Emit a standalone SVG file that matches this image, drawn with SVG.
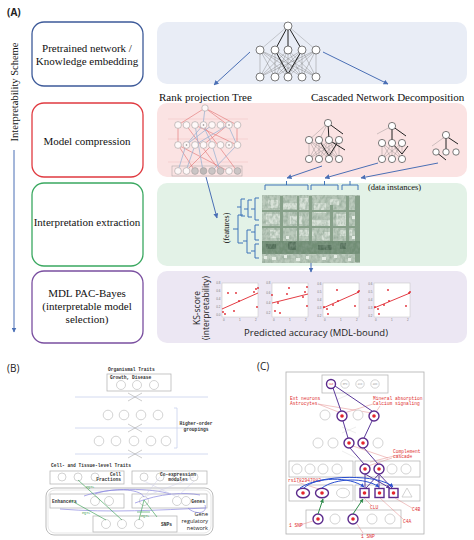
<svg xmlns="http://www.w3.org/2000/svg" width="474" height="540" viewBox="0 0 474 540">
<style>
.serif{font-family:"Liberation Serif","Times New Roman",serif;fill:#111}
.sans{font-family:"Open Sans","Liberation Sans",Arial,sans-serif;fill:#222}
.mono{font-family:"Liberation Mono","Courier New",monospace;font-weight:bold;fill:#333;font-size:4.6px}
.monored{font-family:"Liberation Mono","Courier New",monospace;fill:#e03030;font-size:4.6px}
.box{fill:#fff;stroke-width:1.3}
.arr{stroke:#4a6fb5;stroke-width:1;fill:none}
.net circle{fill:#fff;stroke:#444;stroke-width:0.7}
.nl{stroke:#777;stroke-width:0.35}
.hl{stroke:#222;stroke-width:1;fill:none}
.br{stroke:#3f74b8;stroke-width:1;fill:none}
.gc{fill:#fff;stroke:#c8c8c8;stroke-width:0.8}
.gb{fill:none;stroke:#b8b8b8;stroke-width:0.8}
.pc{fill:#fff;stroke:#5b2a8c;stroke-width:1.4}
.rd{fill:#e3262b}
.pl{stroke:#5b3a9a;stroke-width:1;fill:none}
.tick{font-family:"Liberation Sans",Arial,sans-serif;font-size:3px;fill:#777}
.ax{fill:#fff;stroke:#c0c0c0;stroke-width:0.5}
.dot{fill:#e0262f}
.rl{stroke:#e0262f;stroke-width:0.9}
</style>
<defs>
<marker id="ah" viewBox="0 0 10 10" refX="9" refY="5" markerWidth="5" markerHeight="5" orient="auto-start-reverse"><path d="M0,0 L10,5 L0,10 z" fill="#4a6fb5"/></marker>
<marker id="ahb" viewBox="0 0 10 10" refX="9" refY="5" markerWidth="4" markerHeight="4" orient="auto"><path d="M0,0 L10,5 L0,10 z" fill="#2a4fd0"/></marker>
<marker id="ahg" viewBox="0 0 10 10" refX="9" refY="5" markerWidth="4" markerHeight="4" orient="auto"><path d="M0,0 L10,5 L0,10 z" fill="#2d8a4a"/></marker>
<marker id="ahp" viewBox="0 0 10 10" refX="9" refY="5" markerWidth="4" markerHeight="4" orient="auto"><path d="M0,0 L10,5 L0,10 z" fill="#5b3a9a"/></marker>
<filter id="noise" x="0" y="0" width="100%" height="100%">
<feTurbulence type="fractalNoise" baseFrequency="0.35 0.25" numOctaves="2" seed="7" result="t"/>
<feColorMatrix in="t" type="matrix" values="0 0 0 0 0.25  0 0 0 0 0.35  0 0 0 0 0.27  0 0 0 1.6 -0.55"/>
</filter>
</defs>
<rect width="474" height="540" fill="#fff"/>

<!-- Panel A -->
<text x="7" y="16" class="sans" font-size="10" font-weight="bold">(A)</text>
<text class="serif" font-size="10.5" transform="translate(18,92) rotate(-90)" text-anchor="middle">Interpretability Scheme</text>
<line x1="14" y1="150" x2="14" y2="332" class="arr" marker-end="url(#ah)"/>

<!-- right panels -->
<rect x="157" y="22" width="310" height="62" rx="10" fill="#e9edf6"/>
<rect x="157" y="103" width="310" height="74" rx="10" fill="#fbe3e3"/>
<rect x="157" y="183" width="310" height="83" rx="10" fill="#e3f2e7"/>
<rect x="157" y="271" width="310" height="72" rx="10" fill="#ece7f3"/>

<g id="box1"><rect x="32" y="22" width="111" height="64" rx="12" class="box" stroke="#3d5a99"/>
<text x="87" y="52" class="serif" font-size="11" text-anchor="middle">Pretrained network /</text>
<text x="87" y="65" class="serif" font-size="11" text-anchor="middle">Knowledge embedding</text></g>
<g id="box2"><rect x="32" y="103" width="111" height="74" rx="12" class="box" stroke="#e03a40"/>
<text x="87" y="145" class="serif" font-size="11" text-anchor="middle">Model compression</text></g>
<g id="box3"><rect x="32" y="183" width="111" height="83" rx="12" class="box" stroke="#3aa860"/>
<text x="87" y="226" class="serif" font-size="11" text-anchor="middle">Interpretation extraction</text></g>
<g id="box4"><rect x="32" y="271" width="111" height="72" rx="12" class="box" stroke="#7a4fa0"/>
<text x="87" y="297" class="serif" font-size="11" text-anchor="middle">MDL PAC-Bayes</text>
<text x="87" y="310" class="serif" font-size="11" text-anchor="middle">(interpretable model</text>
<text x="87" y="323" class="serif" font-size="11" text-anchor="middle">selection)</text></g>

<!-- pretrained network -->
<g id="pretrained" class="net">
<g class="nl">
<line x1="288" y1="26" x2="260" y2="50"/><line x1="288" y1="26" x2="316" y2="50"/>
<path d="M260,50 L275,77 M260,50 L288,77 M260,50 L302,77 M260,50 L316,77 M275,50 L260,77 M275,50 L288,77 M275,50 L302,77 M275,50 L316,77 M288,50 L260,77 M288,50 L275,77 M288,50 L302,77 M288,50 L316,77 M302,50 L260,77 M302,50 L275,77 M302,50 L288,77 M302,50 L316,77 M316,50 L260,77 M316,50 L275,77 M316,50 L288,77 M316,50 L302,77 M260,50 V77 M275,50 V77 M288,50 V77 M302,50 V77 M316,50 V77" stroke-width="0.4"/>
</g>
<path d="M275,50 L288,26 L302,50 M275,50 L288,74 L302,50 M288,26 L288,50" class="hl"/>
<circle cx="288" cy="26" r="4"/>
<circle cx="260" cy="50" r="4"/><circle cx="275" cy="50" r="4"/><circle cx="288" cy="50" r="4"/><circle cx="302" cy="50" r="4"/><circle cx="316" cy="50" r="4"/>
<circle cx="260" cy="77" r="4"/><circle cx="275" cy="77" r="4"/><circle cx="288" cy="77" r="4"/><circle cx="302" cy="77" r="4"/><circle cx="316" cy="77" r="4"/>
</g>
<text x="159" y="101" class="serif" font-size="11">Rank projection Tree</text>
<text x="311" y="101" class="serif" font-size="11">Cascaded Network Decomposition</text>

<!-- rank projection tree -->
<g id="rankproj" opacity="0.75">
<g stroke="#e8b0b0" stroke-width="0.5"><line x1="168" y1="119" x2="248" y2="119"/><line x1="168" y1="139" x2="248" y2="139"/><line x1="168" y1="162" x2="248" y2="162"/></g>
<rect x="172" y="166" width="70" height="10" fill="none" stroke="#999" stroke-width="0.6"/>
<g stroke="#d84a4a" stroke-width="0.6" fill="none">
<path d="M205,108 L178,125 M205,108 L237,125 M205,108 L228,125 M178,125 L178,145 L195,171 M237,125 L237,145 M203,125 L237,171 M186,125 L220,171 M178,145 L228,171 M212,145 L186,171 M228,125 L203,145 M195,125 L237,145"/>
</g>
<g stroke="#6e9ccc" stroke-width="0.7" fill="none">
<path d="M205,108 L203,125 M203,125 L186,145 L178,171 M228,125 L195,145 L186,171 M212,125 L186,145 M203,125 L212,145 L220,171 M195,125 L203,171 M228,125 L237,145 L212,171"/>
</g>
<g fill="#fff" stroke="#888" stroke-width="0.6">
<circle cx="205" cy="108" r="3.2"/>
<circle cx="178" cy="125" r="3.4"/><circle cx="186.5" cy="125" r="3.4"/><circle cx="195" cy="125" r="3.4"/><circle cx="203.5" cy="125" r="3.4"/><circle cx="212" cy="125" r="3.4"/><circle cx="220.5" cy="125" r="3.4"/><circle cx="229" cy="125" r="3.4"/><circle cx="237.5" cy="125" r="3.4"/>
<circle cx="178" cy="145" r="3.4"/><circle cx="186.5" cy="145" r="3.4"/><circle cx="195" cy="145" r="3.4"/><circle cx="203.5" cy="145" r="3.4"/><circle cx="212" cy="145" r="3.4"/><circle cx="220.5" cy="145" r="3.4"/><circle cx="229" cy="145" r="3.4"/><circle cx="237.5" cy="145" r="3.4"/>
<circle cx="178" cy="171" r="3.4"/><circle cx="186.5" cy="171" r="3.4"/>
<circle cx="195" cy="171" r="3.4" fill="#bbb"/><circle cx="203.5" cy="171" r="3.4" fill="#aaa"/><circle cx="212" cy="171" r="3.4" fill="#bbb"/><circle cx="220.5" cy="171" r="3.4" fill="#bbb"/><circle cx="229" cy="171" r="3.4"/><circle cx="237.5" cy="171" r="3.4" fill="#bbb"/>
</g>
<g fill="#666"><circle cx="203.5" cy="125" r="0.8"/><circle cx="229" cy="125" r="0.8"/><circle cx="186.5" cy="145" r="0.8"/><circle cx="229" cy="145" r="0.8"/></g>
</g>

<!-- cascaded networks -->
<g id="cascade1" class="net">
<path class="nl" d="M309,140 L319,159 M309,140 L329,159 M309,140 L339,159 M319,140 L309,159 M319,140 L329,159 M319,140 L339,159 M329,140 L309,159 M329,140 L319,159 M329,140 L339,159 M339,140 L309,159 M339,140 L319,159 M339,140 L329,159 M309,140 V159 M319,140 V159 M329,140 V159 M339,140 V159 M328,123 L309,140 M328,123 L319,140"/>
<path class="hl" d="M328,123 L329,140 M328,123 L343,134 M319,140 L329,156 L339,140 M329,140 L345,150"/>
<circle cx="328" cy="123" r="3.6"/>
<circle cx="309" cy="140" r="3.6"/><circle cx="319" cy="140" r="3.6"/><circle cx="329" cy="140" r="3.6"/><circle cx="339" cy="140" r="3.6"/>
<circle cx="309" cy="159" r="3.6"/><circle cx="319" cy="159" r="3.6"/><circle cx="329" cy="159" r="3.6"/><circle cx="339" cy="159" r="3.6"/>
</g>
<g id="cascade2" class="net">
<path class="nl" d="M382,143 L392,159 M382,143 L402,159 M392,143 L382,159 M392,143 L402,159 M402,143 L382,159 M402,143 L392,159 M382,143 V159 M392,143 V159 M402,143 V159 M392,126 L377,134" stroke-width="0.8"/>
<path class="hl" d="M392,126 L406,136 M392,126 L392,143 M392,143 L402,154 L408,146"/>
<circle cx="392" cy="126" r="3.6"/>
<circle cx="382" cy="143" r="3.6"/><circle cx="392" cy="143" r="3.6"/><circle cx="402" cy="143" r="3.6"/>
<circle cx="382" cy="159" r="3.6"/><circle cx="392" cy="159" r="3.6"/><circle cx="402" cy="159" r="3.6"/>
</g>
<g id="cascade3" class="net">
<path class="nl" d="M446,136 L432,146"/>
<path class="hl" d="M446,136 L458,144 M446,136 L446,150 M436,152 L446,160"/>
<circle cx="446" cy="135" r="3.6"/>
<circle cx="436" cy="152" r="3.2"/><circle cx="446" cy="152" r="3.2"/><circle cx="456" cy="152" r="3.2"/>
</g>

<!-- heatmap -->
<g id="heatmap">
<rect x="262" y="195" width="98" height="68" fill="#bccbbd"/>
<g fill="#d8e2d8"><rect x="268" y="200" width="10" height="8"/><rect x="283" y="203" width="14" height="6"/><rect x="300" y="198" width="8" height="12"/><rect x="314" y="203" width="12" height="10"/><rect x="330" y="199" width="9" height="6"/><rect x="266" y="214" width="16" height="10"/><rect x="290" y="216" width="12" height="8"/><rect x="310" y="220" width="20" height="6"/><rect x="336" y="214" width="10" height="12"/><rect x="270" y="230" width="10" height="8"/><rect x="296" y="230" width="18" height="6"/><rect x="322" y="232" width="8" height="8"/><rect x="340" y="230" width="12" height="6"/></g>
<g fill="#86a088"><rect x="280" y="196" width="3" height="45"/><rect x="297" y="196" width="2" height="45"/><rect x="309" y="196" width="3" height="45"/><rect x="330" y="205" width="3" height="36"/><rect x="346" y="196" width="3" height="45"/><rect x="355" y="196" width="5" height="66"/><rect x="262" y="210" width="98" height="2"/><rect x="262" y="226" width="98" height="2"/></g>
<rect x="262" y="241" width="98" height="13" fill="#718e75"/>
<g fill="#54705a"><rect x="266" y="244" width="10" height="5"/><rect x="288" y="242" width="8" height="8"/><rect x="318" y="245" width="14" height="5"/><rect x="340" y="243" width="6" height="6"/></g>
<rect x="262" y="195" width="98" height="68" filter="url(#noise)" opacity="0.8"/>
<g fill="#e4ece4"><rect x="264" y="256" width="3" height="3"/><rect x="272" y="257" width="4" height="3"/><rect x="284" y="255" width="3" height="3"/><rect x="296" y="258" width="4" height="3"/><rect x="306" y="256" width="3" height="3"/><rect x="322" y="257" width="4" height="3"/><rect x="334" y="255" width="3" height="3"/><rect x="348" y="258" width="3" height="3"/><rect x="286" y="236" width="3" height="3"/><rect x="352" y="216" width="3" height="3"/><rect x="352" y="236" width="3" height="3"/></g>
</g>
<!-- brackets -->
<g id="brackets" class="br">
<path d="M265,190 V185 H308 V190 M286.5,185 V181"/>
<path d="M311,190 V185 H338 V190 M324.5,185 V181"/>
<path d="M342,190 V185 H358 V190 M350,185 V181"/>
<path d="M259,198 H255 V220 H259 M255,209 H251"/>
<path d="M252,200 H248 V217 H252 M248,209 H244"/>
<path d="M245,199 H241 V216 H245 M241,207 H237"/>
<path d="M259,225 H255 V240 H259 M255,232 H251"/>
<path d="M259,244 H255 V258 H259 M255,251 H251"/>
<path d="M251,230 H247 V253 H251 M247,241 H243"/>
<path d="M243,215 H238 V243 H243"/>
<path d="M238,229 H233"/>
</g>
<text x="368" y="190" class="serif" font-size="8.5">(data instances)</text>
<text class="serif" font-size="8" transform="translate(229,228) rotate(-90)" text-anchor="middle">(features)</text>

<!-- connectors of panel A -->
<g id="connectorsA" class="arr" marker-end="url(#ah)">
<line x1="250" y1="52" x2="214" y2="85"/>
<line x1="323" y1="52" x2="388" y2="84"/>
<line x1="206" y1="177" x2="217" y2="218"/>
<line x1="322" y1="166" x2="287" y2="178"/>
<line x1="378" y1="163" x2="325" y2="178"/>
<line x1="438" y1="163" x2="361" y2="178"/>
<line x1="311" y1="263" x2="311" y2="272"/>
</g>

<!-- scatter plots -->
<text class="sans" font-size="8.5" transform="translate(200,308) rotate(-90)" text-anchor="middle">KS-score</text>
<text class="sans" font-size="8.5" transform="translate(209,308) rotate(-90)" text-anchor="middle">(interpretability)</text>
<g id="plot1" transform="translate(222,283)">
<rect class="ax" width="36" height="34"/>
<text class="tick" x="-1.5" y="1" text-anchor="end">0.8</text><text class="tick" x="-1.5" y="9" text-anchor="end">0.6</text><text class="tick" x="-1.5" y="17" text-anchor="end">0.4</text><text class="tick" x="-1.5" y="25" text-anchor="end">0.2</text><text class="tick" x="-1.5" y="33" text-anchor="end">0.0</text>
<text class="tick" x="1" y="38">0</text><text class="tick" x="17" y="38">1</text><text class="tick" x="33" y="38">2</text>
<line class="rl" x1="0" y1="26" x2="36" y2="10"/>
<circle class="dot" cx="1" cy="29" r="0.9"/><circle class="dot" cx="3" cy="31" r="0.9"/><circle class="dot" cx="6" cy="10" r="0.9"/><circle class="dot" cx="12" cy="28" r="0.9"/><circle class="dot" cx="14" cy="10" r="0.9"/><circle class="dot" cx="17" cy="18" r="0.9"/><circle class="dot" cx="32" cy="9" r="0.9"/><circle class="dot" cx="34" cy="6" r="0.9"/><circle class="dot" cx="36" cy="5" r="0.9"/><circle class="dot" cx="35" cy="24" r="0.9"/>
</g>
<g id="plot2" transform="translate(272,283)">
<rect class="ax" width="36" height="34"/>
<text class="tick" x="-1.5" y="1" text-anchor="end">0.8</text><text class="tick" x="-1.5" y="11" text-anchor="end">0.6</text><text class="tick" x="-1.5" y="21" text-anchor="end">0.4</text><text class="tick" x="-1.5" y="31" text-anchor="end">0.2</text>
<text class="tick" x="1" y="38">0</text><text class="tick" x="17" y="38">1</text><text class="tick" x="33" y="38">2</text>
<line class="rl" x1="0" y1="20" x2="36" y2="11"/>
<circle class="dot" cx="0" cy="12" r="0.9"/><circle class="dot" cx="3" cy="28" r="0.9"/><circle class="dot" cx="6" cy="20" r="0.9"/><circle class="dot" cx="8" cy="30" r="0.9"/><circle class="dot" cx="15" cy="11" r="0.9"/><circle class="dot" cx="17" cy="5" r="0.9"/><circle class="dot" cx="31" cy="14" r="0.9"/><circle class="dot" cx="33" cy="9" r="0.9"/><circle class="dot" cx="35" cy="4" r="0.9"/><circle class="dot" cx="35" cy="23" r="0.9"/>
</g>
<g id="plot3" transform="translate(323,283)">
<rect class="ax" width="36" height="34"/>
<text class="tick" x="-1.5" y="2" text-anchor="end">0.6</text><text class="tick" x="-1.5" y="10" text-anchor="end">0.5</text><text class="tick" x="-1.5" y="18" text-anchor="end">0.4</text><text class="tick" x="-1.5" y="26" text-anchor="end">0.3</text><text class="tick" x="-1.5" y="34" text-anchor="end">0.2</text>
<text class="tick" x="1" y="38">0</text><text class="tick" x="17" y="38">1</text><text class="tick" x="33" y="38">2</text>
<line class="rl" x1="0" y1="25" x2="36" y2="9"/>
<circle class="dot" cx="1" cy="24" r="0.9"/><circle class="dot" cx="4" cy="26" r="0.9"/><circle class="dot" cx="5" cy="31" r="0.9"/><circle class="dot" cx="10" cy="22" r="0.9"/><circle class="dot" cx="14" cy="7" r="0.9"/><circle class="dot" cx="15" cy="18" r="0.9"/><circle class="dot" cx="32" cy="23" r="0.9"/><circle class="dot" cx="35" cy="9" r="0.9"/><circle class="dot" cx="36" cy="8" r="0.9"/>
</g>
<g id="plot4" transform="translate(374,283)">
<rect class="ax" width="36" height="34"/>
<text class="tick" x="-1.5" y="2" text-anchor="end">0.6</text><text class="tick" x="-1.5" y="10" text-anchor="end">0.5</text><text class="tick" x="-1.5" y="18" text-anchor="end">0.4</text><text class="tick" x="-1.5" y="26" text-anchor="end">0.3</text><text class="tick" x="-1.5" y="34" text-anchor="end">0.2</text>
<text class="tick" x="1" y="38">0</text><text class="tick" x="17" y="38">1</text><text class="tick" x="33" y="38">2</text>
<line class="rl" x1="0" y1="25" x2="36" y2="10"/>
<circle class="dot" cx="1" cy="24" r="0.9"/><circle class="dot" cx="4" cy="26" r="0.9"/><circle class="dot" cx="5" cy="31" r="0.9"/><circle class="dot" cx="10" cy="22" r="0.9"/><circle class="dot" cx="14" cy="7" r="0.9"/><circle class="dot" cx="15" cy="18" r="0.9"/><circle class="dot" cx="32" cy="23" r="0.9"/><circle class="dot" cx="35" cy="10" r="0.9"/><circle class="dot" cx="36" cy="9" r="0.9"/>
</g>
<text x="316" y="336" class="sans" font-size="9.5" text-anchor="middle">Predicted accuracy (MDL-bound)</text>

<!-- Panel B -->
<text x="7" y="372" class="sans" font-size="10">(B)</text>
<g id="panelB">
<text x="108" y="371" class="mono">Organismal Traits</text>
<g id="organismal"><rect x="107" y="374" width="64" height="17" class="gb"/>
<text x="110" y="379" class="mono">Growth, Disease</text>
<circle cx="121" cy="385" r="4.5" class="gc"/><circle cx="137" cy="385" r="4.5" class="gc"/><circle cx="154" cy="385" r="4.5" class="gc"/></g>
<g stroke="#c8d0ec" stroke-width="0.8"><line x1="75" y1="397" x2="208" y2="397"/><line x1="75" y1="428" x2="208" y2="428"/><line x1="75" y1="454" x2="208" y2="454"/></g>
<g stroke="#aaa" stroke-width="0.6"><path d="M128,393 L142,401 M128,401 L142,393 M128,424 L142,432 M128,432 L142,424 M128,450 L142,458 M128,458 L142,450"/></g>
<g id="higher1"><circle cx="108" cy="415" r="4.8" class="gc"/><circle cx="124" cy="415" r="4.8" class="gc"/><circle cx="141" cy="415" r="4.8" class="gc"/><circle cx="158" cy="415" r="4.8" class="gc"/></g>
<g id="higher2"><circle cx="99" cy="441" r="4.8" class="gc"/><circle cx="116" cy="441" r="4.8" class="gc"/><circle cx="134" cy="441" r="4.8" class="gc"/><circle cx="151" cy="441" r="4.8" class="gc"/><circle cx="166" cy="441" r="4.8" class="gc"/></g>
<path d="M174,408 H177 V448 H174" fill="none" stroke="#c8d0ec" stroke-width="0.8"/>
<text x="196" y="425" class="mono" text-anchor="middle">Higher-order</text>
<text x="196" y="431" class="mono" text-anchor="middle">groupings</text>
<text x="51" y="467" class="mono">Cell- and Tissue-level Traits</text>
<g id="cellfrac"><rect x="50" y="471" width="74" height="13" class="gb"/>
<circle cx="62" cy="477" r="4" class="gc"/><circle cx="78" cy="477" r="4" class="gc"/><circle cx="95" cy="477" r="4" class="gc"/>
<text x="121" y="476" class="mono" text-anchor="end">Cell</text><text x="121" y="481" class="mono" text-anchor="end">Fractions</text></g>
<g id="coexpr"><rect x="132" y="471" width="75" height="13" class="gb"/>
<circle cx="144" cy="477" r="4" class="gc"/><circle cx="160" cy="477" r="4" class="gc"/><circle cx="177" cy="477" r="4" class="gc"/><circle cx="194" cy="477" r="4" class="gc"/>
<text x="178" y="476" class="mono" text-anchor="middle">Co-expression</text><text x="178" y="481" class="mono" text-anchor="middle">modules</text></g>
<rect x="46" y="488" width="167" height="47" rx="8" fill="none" stroke="#aaa" stroke-width="0.8"/>
<rect x="48" y="490" width="163" height="43" rx="7" fill="none" stroke="#ccc" stroke-width="0.5"/>
<g id="enhancers"><rect x="50" y="494" width="74" height="14" class="gb"/>
<circle cx="95" cy="501" r="4.5" class="gc"/><circle cx="109" cy="501" r="4.5" class="gc"/>
<text x="52" y="503" class="mono">Enhancers</text></g>
<g id="genes"><rect x="132" y="494" width="75" height="14" class="gb"/>
<circle cx="144" cy="501" r="4.5" class="gc"/><circle cx="177" cy="501" r="4.5" class="gc"/><circle cx="186" cy="501" r="4.5" class="gc"/>
<text x="205" y="503" class="mono" text-anchor="end">Genes</text></g>
<g id="snps"><rect x="93" y="516" width="84" height="16" class="gb"/>
<circle cx="106" cy="524" r="4.5" class="gc"/><circle cx="122" cy="524" r="4.5" class="gc"/><circle cx="139" cy="524" r="4.5" class="gc"/>
<text x="161" y="526" class="mono">SNPs</text></g>
<text class="sans" font-size="5.5" fill="#444" text-anchor="end"><tspan x="208" y="516">Gene</tspan><tspan x="208" y="523">regulatory</tspan><tspan x="208" y="530">network</tspan></text>
<g id="connectorsB" fill="none">
<g stroke="#8a86e0" stroke-width="0.7">
<path d="M84,496 C110,487 150,488 171,494"/>
<path d="M60,509 C110,513 160,510 205,508"/>
<path d="M135,503 C160,493 185,492 200,495"/>
<path d="M188,508 C195,515 208,514 205,505"/>
<path d="M144,497 C140,488 110,488 95,494"/>
</g>
<g stroke="#cfcfe8" stroke-width="0.5"><path d="M144,497 L160,477 M144,497 L194,477 M177,497 L144,481 M177,497 L194,481"/></g>
<g stroke="#2d9a4a" stroke-width="0.6">
<line x1="78" y1="480" x2="122" y2="520"/>
<line x1="70" y1="500" x2="106" y2="520"/>
<line x1="144" y1="500" x2="139" y2="520"/>
<line x1="144" y1="500" x2="157" y2="517"/>
<line x1="137" y1="512" x2="150" y2="512"/>
</g>
<g class="monored" style="fill:#3aa050;font-size:3.5px"><text x="86" y="488">eQTL</text><text x="82" y="514">eQTL</text><text x="141" y="517">eQTL</text></g>
</g>
</g>

<!-- Panel C -->
<text x="257" y="370" class="sans" font-size="10">(C)</text>
<g id="panelC">
<rect x="286" y="372" width="138" height="162" fill="#fff" stroke="#b0b0b0" stroke-width="0.8"/>
<g id="traitsC"><rect x="322" y="375" width="66" height="18" class="gb"/>
<circle cx="331" cy="384" r="4.5" class="pc"/><circle cx="345" cy="384" r="4.2" class="gc"/><circle cx="360" cy="384" r="4.2" class="gc"/><circle cx="375" cy="384" r="4.2" class="gc"/>
<g class="monored" style="font-size:2.6px" text-anchor="middle"><text x="331" y="385">SCZ</text></g>
<g style="font-family:'Liberation Mono',monospace;font-size:2.6px;fill:#aaa" text-anchor="middle"><text x="345" y="385">BPD</text><text x="360" y="385">ASD</text><text x="375" y="385">ADD</text></g></g>
<text x="290" y="400" class="monored">Ext neurons</text><text x="290" y="405" class="monored">Astrocytes</text>
<text x="373" y="400" class="monored">Mineral absorption</text><text x="373" y="405" class="monored">Calcium signaling</text>
<g stroke="#e38a8a" stroke-width="0.5" fill="none"><path d="M318,404 L341,413 M318,404 L372,413 M373,404 L344,413 M380,406 L376,412 M392,458 L368,466 M402,454 L370,462 M297,482 L322,490 M388,458 L350,445"/></g>
<g id="rowC1"><circle cx="325" cy="415" r="5" class="gc"/><circle cx="342" cy="416" r="5" class="pc"/><circle cx="358" cy="415" r="5" class="gc"/><circle cx="374" cy="416" r="5" class="pc"/></g>
<g id="rowC2"><circle cx="318" cy="443" r="5" class="gc"/><circle cx="333" cy="443" r="5" class="gc"/><circle cx="349" cy="443" r="5" class="pc"/><circle cx="363" cy="443" r="5" class="pc"/><circle cx="378" cy="443" r="5" class="gc"/></g>
<g stroke="#ddd" stroke-width="0.5"><path d="M336,400 L350,394 M342,427 L356,433 M342,433 L356,427 M342,451 L356,458"/></g>
<text x="393" y="453" class="monored">Complement</text><text x="393" y="458" class="monored">cascade</text>
<g id="cellC"><rect x="289" y="461" width="64" height="16" class="gb"/><rect x="355" y="461" width="65" height="16" class="gb"/>
<circle cx="297" cy="469" r="5" class="gc"/><circle cx="310" cy="469" r="5" class="gc"/><circle cx="323" cy="469" r="5" class="gc"/><circle cx="337" cy="469" r="5" class="gc"/>
<circle cx="365" cy="469" r="5" class="pc"/><circle cx="379" cy="469" r="5" class="pc"/><circle cx="392" cy="469" r="5" class="gc"/><circle cx="406" cy="469" r="5" class="gc"/></g>
<text x="288" y="482" class="monored">rs1782947082</text>
<g id="geneC"><rect x="289" y="485" width="64" height="16" class="gb"/><rect x="355" y="485" width="65" height="16" class="gb"/>
<ellipse cx="303" cy="493" rx="6.5" ry="4.8" class="pc"/><ellipse cx="322" cy="493" rx="6.5" ry="4.8" class="pc"/><ellipse cx="343" cy="493" rx="6.5" ry="4.8" class="gc"/>
<rect x="360" y="488.5" width="9" height="9" class="pc"/><rect x="375" y="488.5" width="9" height="9" class="pc"/><rect x="389" y="488.5" width="9" height="9" class="pc"/>
<path d="M407,488 L412,497 L402,497 Z" class="gc"/></g>
<g id="snpC"><rect x="306" y="510" width="95" height="18" class="gb"/>
<circle cx="318" cy="519" r="5" class="pc"/><circle cx="335" cy="519" r="5" class="gc"/><circle cx="353" cy="519" r="5" class="pc"/><circle cx="372" cy="519" r="5" class="gc"/><circle cx="390" cy="519" r="5" class="gc"/></g>
<g class="rd"><circle cx="342" cy="416" r="1.8"/><circle cx="374" cy="416" r="1.8"/><circle cx="349" cy="443" r="1.8"/><circle cx="363" cy="443" r="1.8"/><circle cx="365" cy="469" r="1.8"/><circle cx="379" cy="469" r="1.8"/><circle cx="303" cy="493" r="1.8"/><circle cx="322" cy="493" r="1.8"/><circle cx="364.5" cy="493" r="1.8"/><circle cx="379.5" cy="493" r="1.8"/><circle cx="393.5" cy="493" r="1.8"/><circle cx="318" cy="519" r="1.8"/><circle cx="353" cy="519" r="1.8"/></g>
<text x="289" y="527" class="monored">1 SNP</text><text x="361" y="538" class="monored">1 SNP</text>
<text x="370" y="509" class="monored">CLU</text><text x="403" y="523" class="monored">C4A</text><text x="412" y="511" class="monored">C4B</text>
<g stroke="#e38a8a" stroke-width="0.5" fill="none"><path d="M300,525 L313,521 M357,524 L363,533 M364,498 L372,506 M380,498 L403,519 M395,498 L412,508"/></g>
<g id="connectorsC">
<g class="pl"><path d="M333,388 L341,411 M335,386 L372,411 M343,421 L348,438 M372,421 L364,438 M350,448 L364,464 M364,448 L378,464"/></g>
<g class="pl" marker-end="url(#ahp)"><path d="M365,474 L365,488 M379,474 L366,488 M379,474 L379,488 M379,474 L392,488 M365,474 L390,488"/></g>
<g stroke="#2a4fd0" stroke-width="1" fill="none" marker-end="url(#ahb)"><path d="M304,488 C315,477 350,476 364,487"/><path d="M322,488 C335,478 365,477 379,487"/><path d="M300,488 C320,474 380,474 393,487"/></g>
<g stroke="#2d8a4a" stroke-width="1" fill="none" marker-end="url(#ahg)"><path d="M318,514 L323,499"/><path d="M353,514 L363,499"/></g>
</g>
</g>
</svg>
